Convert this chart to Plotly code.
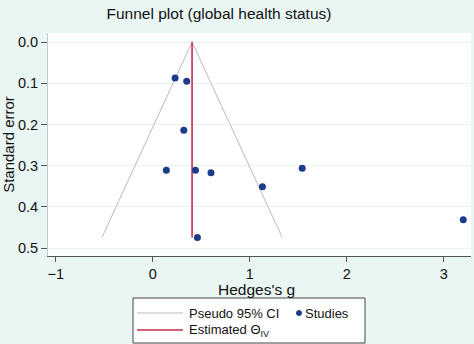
import plotly.graph_objects as go

# Study effect sizes (Hedges's g) and their standard errors
hedges_g = [0.23, 0.35, 0.32, 0.14, 0.44, 0.60, 0.46, 1.13, 1.54, 3.20]
std_err = [0.087, 0.095, 0.214, 0.311, 0.311, 0.317, 0.474, 0.351, 0.306, 0.431]

# Pooled (inverse-variance) estimate
theta_iv = 0.405

x_ticks = [-1, 0, 1, 2, 3]
y_ticks = [0.0, 0.1, 0.2, 0.3, 0.4, 0.5]

legend_labels = ["Pseudo 95% CI", "Studies", "Estimated Θ<sub>IV</sub>"]

se_max = max(std_err)
z = 1.96

BG = "#eaf6f3"
FONT = "Liberation Sans, Arial, sans-serif"
CI_COLOR = "#b9bcbc"
EST_COLOR = "#cc2a4a"
DOT_COLOR = "#1b3c8c"

W, H = 474, 344
ML, MR, MT, MB = 48, 3, 33, 88
PW, PH = W - ML - MR, H - MT - MB


def px(x):
    """Pixel column -> paper x."""
    return (x - ML) / PW


def py(y):
    """Pixel row -> paper y."""
    return (H - MB - y) / PH


fig = go.Figure()

# Pseudo 95% confidence limits (both sides in one trace)
fig.add_trace(go.Scatter(
    x=[theta_iv, theta_iv - z * se_max, None, theta_iv, theta_iv + z * se_max],
    y=[0, se_max, None, 0, se_max],
    mode="lines",
    line=dict(color=CI_COLOR, width=1),
    name=legend_labels[0],
    showlegend=False,
))

# Vertical line at the pooled estimate
fig.add_trace(go.Scatter(
    x=[theta_iv, theta_iv],
    y=[0, se_max],
    mode="lines",
    line=dict(color=EST_COLOR, width=1.6),
    name=legend_labels[2],
    showlegend=False,
))

# Individual studies
fig.add_trace(go.Scatter(
    x=hedges_g,
    y=std_err,
    mode="markers",
    marker=dict(color=DOT_COLOR, size=7),
    name=legend_labels[1],
    showlegend=False,
))

# Legend box drawn below the plot area
shapes = [
    dict(type="rect", xref="paper", yref="paper",
         x0=px(133), x1=px(365), y0=py(298), y1=py(343),
         line=dict(color="#444444", width=1), fillcolor="white", layer="above"),
    dict(type="line", xref="paper", yref="paper",
         x0=px(137), x1=px(183), y0=py(313), y1=py(313),
         line=dict(color=CI_COLOR, width=1.2)),
    dict(type="line", xref="paper", yref="paper",
         x0=px(137), x1=px(183), y0=py(330), y1=py(330),
         line=dict(color=EST_COLOR, width=1.6)),
    dict(type="circle", xref="paper", yref="paper",
         x0=px(296.5), x1=px(301.5), y0=py(310.5), y1=py(315.5),
         line=dict(color=DOT_COLOR, width=1), fillcolor=DOT_COLOR),
]

annotations = [
    dict(text=legend_labels[0], x=px(187), y=py(313)),
    dict(text=legend_labels[1], x=px(303), y=py(313)),
    dict(text=legend_labels[2], x=px(187), y=py(330)),
]
annotations = [
    dict(a, xref="paper", yref="paper", xanchor="left", yanchor="middle",
         showarrow=False, font=dict(size=13, color="#111111", family=FONT))
    for a in annotations
]

# x-axis title
annotations.append(dict(
    text="Hedges's g", xref="paper", yref="paper",
    x=px(256), y=py(289), xanchor="center", yanchor="middle",
    showarrow=False, font=dict(size=15.5, color="#111111", family=FONT),
))

fig.update_layout(
    width=W,
    height=H,
    margin=dict(l=ML, r=MR, t=MT, b=MB),
    paper_bgcolor=BG,
    plot_bgcolor="white",
    font=dict(family=FONT, size=14, color="#111111"),
    showlegend=False,
    title=dict(
        text="Funnel plot (global health status)",
        x=0.462, xanchor="center",
        y=1 - 14 / H, yanchor="middle",
        font=dict(size=15.5, color="#111111"),
    ),
    xaxis=dict(
        range=[-1.08, 3.28],
        tickvals=x_ticks,
        ticktext=[str(v).replace("-", "\u2212") for v in x_ticks],
        ticks="outside", ticklen=5, tickcolor="#555555",
        showline=True, linecolor="#555555", linewidth=1,
        showgrid=False, zeroline=False,
        tickfont=dict(size=14.5),
    ),
    yaxis=dict(
        range=[0.519, -0.022],
        tickvals=y_ticks,
        tickformat=".1f",
        ticks="outside", ticklen=6, tickcolor="#555555",
        showline=True, linecolor="#c4cccb", linewidth=1,
        showgrid=True, gridcolor="#e9f4f1", gridwidth=1,
        zeroline=False,
        title=dict(text="Standard error", standoff=3, font=dict(size=15)),
        tickfont=dict(size=14.5),
    ),
    shapes=shapes,
    annotations=annotations,
)

fig.write_html("out.html")
